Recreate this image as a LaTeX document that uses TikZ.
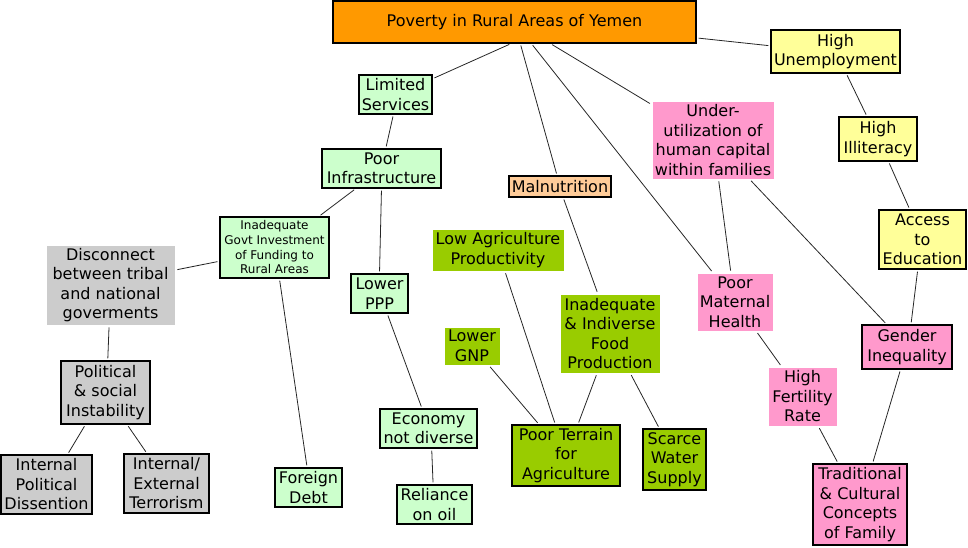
\documentclass[tikz,border=0pt]{standalone}
\usepackage{fontspec}
\setmainfont{DejaVu Sans}
\usepackage{xcolor}

\definecolor{povorange}{HTML}{FF9900}
\definecolor{jobyellow}{HTML}{FFFF99}
\definecolor{infragreen}{HTML}{CCFFCC}
\definecolor{polgrey}{HTML}{CCCCCC}
\definecolor{foodpeach}{HTML}{FFCC99}
\definecolor{agrigreen}{HTML}{99CC00}
\definecolor{familypink}{HTML}{FF99CC}

\begin{document}
\begin{tikzpicture}[x=0.75pt,y=0.75pt,yscale=-1,xscale=1,
  concept/.style={draw=black, line width=0.9pt, align=center, inner xsep=1pt, inner ysep=1pt,
    font=\fontsize{12}{14.6}\selectfont},
  soft/.style={concept, draw=white, line width=0.6pt},
  small/.style={font=\fontsize{9}{11}\selectfont},
  wh/.style 2 args={minimum width=#1*0.75pt, minimum height=#2*0.75pt},
  link/.style={draw=black!85, line width=0.6pt, shorten <=1.5pt, shorten >=1.5pt}]
\useasboundingbox (0,0) rectangle (968,548);

% Top concept
\node[concept, fill=povorange, wh={363}{42}] (pov) at (514.5,22) {Poverty in Rural Areas of Yemen};

% Infrastructure branch
\node[concept, fill=infragreen, wh={73}{39}] (limserv) at (395.5,94.5) {Limited\\Services};
\node[concept, fill=infragreen, wh={119}{39}] (infra) at (381.5,168.5) {Poor\\Infrastructure};
\node[concept, small, fill=infragreen, wh={109}{61}] (govt) at (274.5,247.5) {Inadequate\\Govt Investment\\of Funding to\\Rural Areas};
\node[concept, fill=infragreen, wh={67}{39}] (debt) at (308.5,487.5) {Foreign\\Debt};
\node[concept, fill=infragreen, wh={57}{39}] (ppp) at (379.5,293.5) {Lower\\PPP};
\node[concept, fill=infragreen, wh={97}{39}] (econ) at (428.5,428.5) {Economy\\not diverse};
\node[concept, fill=infragreen, wh={75}{39}] (oil) at (434.5,504.5) {Reliance\\on oil};

% Political branch
\node[soft, fill=polgrey, wh={129}{80}] (disc) at (110.5,285) {Disconnect\\between tribal\\and national\\goverments};
\node[concept, fill=polgrey, wh={89}{63}] (polit) at (105.5,392.5) {Political\\\& social\\Instability};
\node[concept, fill=polgrey, wh={91}{59}] (dissent) at (46.5,484.5) {Internal\\Political\\Dissention};
\node[concept, fill=polgrey, wh={85}{59}] (terror) at (166.5,483.5) {Internal/\\External\\Terrorism};

% Food branch
\node[concept, fill=foodpeach, wh={102}{21}] (maln) at (560,186.5) {Malnutrition};
\node[soft, fill=agrigreen, wh={132}{42}] (lowagri) at (498,250) {Low Agriculture\\Productivity};
\node[soft, fill=agrigreen, wh={56}{38}] (gnp) at (472,346) {Lower\\GNP};
\node[soft, fill=agrigreen, wh={100}{79}] (food) at (610,333.5) {Inadequate\\\& Indiverse\\Food\\Production};
\node[concept, fill=agrigreen, wh={108}{61}] (terrain) at (566,455.5) {Poor Terrain\\for\\Agriculture};
\node[concept, fill=agrigreen, wh={63}{61}] (water) at (674.5,459.5) {Scarce\\Water\\Supply};

% Family branch
\node[soft, fill=familypink, wh={122}{78}] (under) at (713,140) {Under-\\utilization of\\human capital\\within families};
\node[soft, fill=familypink, wh={76}{58}] (maternal) at (735,302) {Poor\\Maternal\\Health};
\node[soft, fill=familypink, wh={69}{59}] (fert) at (802.5,396.5) {High\\Fertility\\Rate};
\node[concept, fill=familypink, wh={90}{44}] (gender) at (907,347) {Gender\\Inequality};
\node[concept, fill=familypink, wh={94}{81}] (trad) at (860,504.5) {Traditional\\\& Cultural\\Concepts\\of Family};

% Employment branch
\node[concept, fill=jobyellow, wh={129}{43}] (unemp) at (835.5,51.5) {High\\Unemployment};
\node[concept, fill=jobyellow, wh={78}{44}] (illit) at (878,139) {High\\Illiteracy};
\node[concept, fill=jobyellow, wh={87}{59}] (access) at (922.5,239.5) {Access\\to\\Education};

% Links
\draw[link] (pov.355) -- (unemp.175);
\draw[link] (pov.261) -- (limserv.23);
\draw[link] (pov.285) -- (maln.105);
\draw[link] (pov.308) -- (maternal.127);
\draw[link] (pov.329) -- (under.150);
\draw[link] (limserv.264) -- (infra.78);
\draw[link] (infra.218) -- (govt.35);
\draw[link] (infra.south) -- (ppp.north);
\draw[link] (govt.194) -- (disc.13);
\draw[link] (govt.279) -- (debt.94);
\draw[link] (disc.268) -- (polit.86);
\draw[link] (polit.238) -- (dissent.55);
\draw[link] (polit.304) -- (terror.123);
\draw[link] (ppp.291) -- (econ.108);
\draw[link] (econ.279) -- (oil.94);
\draw[link] (maln.286) -- (food.107);
\draw[link] (lowagri.288) -- (terrain.109);
\draw[link] (gnp.311) -- (terrain.131);
\draw[link] (food.252) -- (terrain.69);
\draw[link] (food.297) -- (water.116);
\draw[link] (under.278) -- (maternal.98);
\draw[link] (under.313) -- (gender.132);
\draw[link] (maternal.306) -- (fert.125);
\draw[link] (fert.298) -- (trad.118);
\draw[link] (gender.254) -- (trad.73);
\draw[link] (unemp.296) -- (illit.116);
\draw[link] (illit.295) -- (access.113);
\draw[link] (access.261) -- (gender.80);
\end{tikzpicture}
\end{document}
